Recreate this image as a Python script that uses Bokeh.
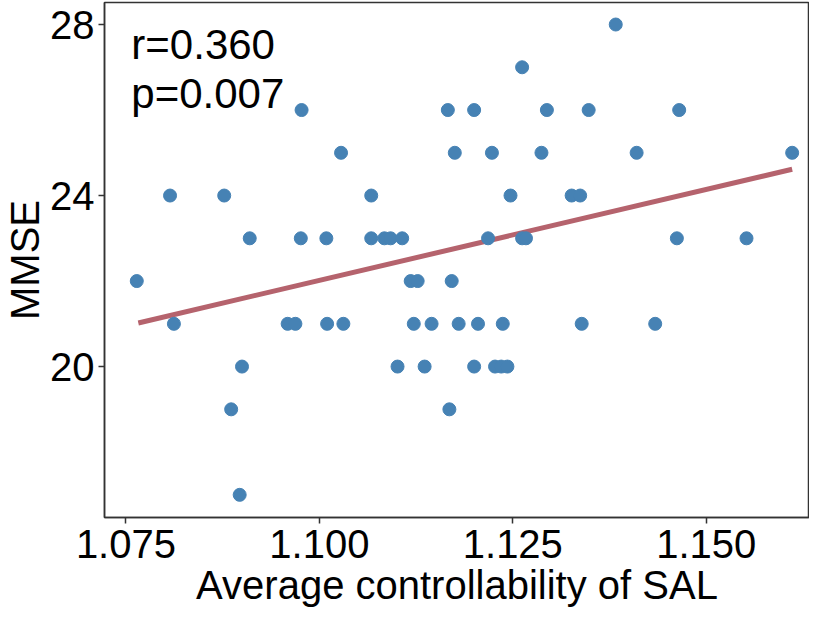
from bokeh.plotting import figure
from bokeh.models import FixedTicker, Label, Range1d, NumeralTickFormatter
from bokeh.embed import file_html
from bokeh.resources import INLINE

# Data
controllability = [
    1.1383,
    1.1262,
    1.0977, 1.1166, 1.1200, 1.1294, 1.1348, 1.1465,
    1.1028, 1.1175, 1.1223, 1.1287, 1.1410, 1.1611,
    1.0807, 1.0877, 1.1067, 1.1247, 1.1326, 1.1337,
    1.0910, 1.0976, 1.1009, 1.1067, 1.1084, 1.1092, 1.1107, 1.1218, 1.1262, 1.1267, 1.1462, 1.1552,
    1.0764, 1.1118, 1.1127, 1.1171,
    1.0812, 1.0959, 1.0969, 1.1010, 1.1031, 1.1122, 1.1145, 1.1180, 1.1205, 1.1237, 1.1339, 1.1434,
    1.0900, 1.1101, 1.1136, 1.1200, 1.1227, 1.1235, 1.1243,
    1.0886, 1.1168,
    1.0897,
]
mmse = (
    [28] * 1 + [27] * 1 + [26] * 6 + [25] * 6 + [24] * 6 + [23] * 12
    + [22] * 4 + [21] * 12 + [20] * 7 + [19] * 2 + [17] * 1
)
fit_x = [1.0766, 1.1611]
fit_y = [21.02, 24.615]
x_ticks = [1.075, 1.100, 1.125, 1.150]
y_ticks = [20, 24, 28]
stats_text = ["r=0.360", "p=0.007"]

FONT = "Liberation Sans"

p = figure(width=809, height=610, output_backend="svg", toolbar_location=None,
           x_range=Range1d(1.07223, 1.16334), y_range=Range1d(16.47, 28.515),
           min_border_left=102, min_border_right=0, min_border_top=2, min_border_bottom=93,
           background_fill_color="white", border_fill_color="white")

p.xgrid.visible = False
p.ygrid.visible = False
p.outline_line_color = "#333333"
p.outline_line_width = 1.5

p.line(fit_x, fit_y, line_color="#b5636d", line_width=5)
p.scatter(controllability, mmse, size=13, fill_color="#4682b4", line_color="#4682b4")

for ax in (p.xaxis[0], p.yaxis[0]):
    ax.axis_line_color = "#333333"
    ax.axis_line_width = 1.5
    ax.major_tick_line_color = "#333333"
    ax.major_tick_line_width = 1.5
    ax.major_tick_out = 6
    ax.major_tick_in = 0
    ax.minor_tick_line_color = None
    ax.major_label_text_font = FONT
    ax.major_label_text_font_size = "40px"
    ax.major_label_text_color = "black"
    ax.axis_label_text_font = FONT
    ax.axis_label_text_font_size = "40px"
    ax.axis_label_text_font_style = "normal"
    ax.axis_label_text_color = "black"

p.xaxis[0].major_label_standoff = 6
p.xaxis[0].axis_label_standoff = 2
p.yaxis[0].major_label_standoff = 4
p.yaxis[0].axis_label_standoff = 0

p.xaxis[0].ticker = FixedTicker(ticks=x_ticks)
p.xaxis[0].formatter = NumeralTickFormatter(format="0.000")
p.xaxis[0].axis_label = "Average controllability of SAL"
p.yaxis[0].ticker = FixedTicker(ticks=y_ticks)
p.yaxis[0].axis_label = "MMSE"

p.add_layout(Label(x=1.0757, y=27.54, text=stats_text[0], text_font=FONT,
                   text_font_size="42px", text_baseline="alphabetic", text_color="black"))
p.add_layout(Label(x=1.0757, y=26.38, text=stats_text[1], text_font=FONT,
                   text_font_size="42px", text_baseline="alphabetic", text_color="black"))

open("out.html", "w").write(file_html(p, INLINE))
